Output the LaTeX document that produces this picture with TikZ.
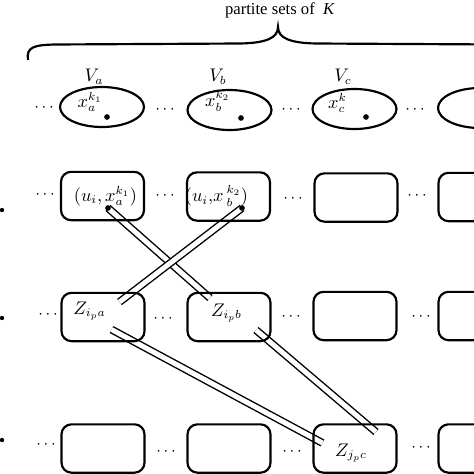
\documentclass[tikz,border=0pt]{standalone}
\usepackage{fontspec}
\newfontfamily\tms{Liberation Serif}
\usetikzlibrary{shapes.geometric,backgrounds}
\begin{document}
\begin{tikzpicture}[x=0.6pt,y=-0.6pt,
  setell/.style={draw, line width=1.3pt, ellipse, minimum width=50.4pt, minimum height=24pt, inner sep=0pt},
  cellbox/.style={draw, line width=1.3pt, rounded corners=6pt, minimum width=49.8pt, minimum height=29pt, inner sep=0pt},
  pt/.style={circle, fill, inner sep=0pt, minimum size=3.4pt},
  link/.style={double, double distance=3pt, line width=0.85pt},
  dts/.style={inner sep=0pt},
  lbl/.style={inner sep=0pt, font=\fontsize{10.5}{12}\selectfont}
]
\useasboundingbox (0,0) rectangle (474,474);
\clip (0,0) rectangle (474,474);

% title and brace
\node[inner sep=0pt, font=\tms\fontsize{10}{12}\selectfont] (title) at (280,10) {partite sets of\ \ \textit{K}};
\coordinate (brL) at (28,60);
\coordinate (brM) at (278,27);
\coordinate (brR) at (528,60);
\draw[line width=1.3pt] (brL) .. controls (26,47) and (34,45) .. (55,44.5) -- (240,43.5)
  .. controls (266,43) and (278,38) .. (brM)
  .. controls (278,38) and (290,43) .. (316,43.5) -- (501,44.5)
  .. controls (522,45) and (530,47) .. (brR);

% row 1: ellipses
\node[setell] (Ea) at (102,107) {};
\node[setell] (Eb) at (229.5,110) {};
\node[setell] (Ec) at (354.5,109) {};
\node[setell] (Ed) at (480,108) {};
\node[lbl] (Va) at (94,77) {$V_a$};
\node[lbl] (Vb) at (218,77) {$V_b$};
\node[lbl] (Vc) at (343,77) {$V_c$};
\node[lbl] (xa) at (90,102) {$x_a^{k_1}$};
\node[lbl] (xb) at (217.5,101) {$x_b^{k_2}$};
\node[lbl] (xc) at (337.5,103) {$x_c^{k}$};
\node[pt] (pa) at (107,117) {};
\node[pt] (pb) at (241,118) {};
\node[pt] (pc) at (366,117) {};
\node[dts] (d1a) at (44,108) {$\cdots$};
\node[dts] (d1b) at (165,110) {$\cdots$};
\node[dts] (d1c) at (291,110) {$\cdots$};
\node[dts] (d1d) at (415,110) {$\cdots$};

% row 2
\node[cellbox] (Ba) at (102.5,196) {};
\node[cellbox] (Bb) at (228.5,196.5) {};
\node[cellbox] (Bc) at (356,197.5) {};
\node[cellbox] (Bd) at (480,197) {};
\node[lbl] (ua) at (105.5,196) {$(u_i{,}\,x_a^{k_1})$};
\node[lbl] (ub) at (216.5,196) {$(u_i{,}x\,{}^{k_2}_{b})$};
\node[pt] (qa) at (108,208) {};
\node[pt] (qb) at (242,208) {};
\node[dts] (d2a) at (45,195) {$\cdots$};
\node[dts] (d2b) at (165,196) {$\cdots$};
\node[dts] (d2c) at (293,199) {$\cdots$};
\node[dts] (d2d) at (417,196) {$\cdots$};
\node[pt, minimum size=2.6pt] (e2) at (2,210) {};

% row 3
\node[cellbox] (Ca) at (103,317) {};
\node[cellbox] (Cb) at (229,317) {};
\node[cellbox] (Cc) at (355,316) {};
\node[cellbox] (Cd) at (480,316) {};
\node[lbl] (za) at (89.5,311) {$Z_{i_pa}$};
\node[lbl] (zb) at (226.5,313) {$Z_{i_pb}$};
\node[dts] (d3a) at (48,315) {$\cdots$};
\node[dts] (d3b) at (163,319) {$\cdots$};
\node[dts] (d3c) at (291,317) {$\cdots$};
\node[dts] (d3d) at (421,317) {$\cdots$};
\node[pt, minimum size=2.6pt] (e3) at (2,318) {};

% row 4
\node[cellbox] (Da) at (103,448.5) {};
\node[cellbox] (Db) at (229,448.5) {};
\node[cellbox] (Dc) at (355,448.5) {};
\node[cellbox] (Dd) at (480,448.5) {};
\node[lbl] (zc) at (351,453) {$Z_{j_pc}$};
\node[dts] (d4a) at (46,445) {$\cdots$};
\node[dts] (d4b) at (166,452) {$\cdots$};
\node[dts] (d4c) at (292,452) {$\cdots$};
\node[dts] (d4d) at (421,448) {$\cdots$};
\node[pt, minimum size=2.6pt] (e4) at (2,440) {};

% link end points
\coordinate (t1) at (210,298);
\coordinate (t2) at (119.5,302);
\coordinate (s3) at (111.5,329.5);
\coordinate (t3) at (322.5,443);
\coordinate (s4) at (256,330);
\coordinate (t4) at (376,432);

\begin{scope}[on background layer]
\draw[link] (qa.center) -- (t1);
\draw[link] (qb.center) -- (t2);
\draw[link] (s3) -- (t3);
\draw[link] (s4) -- (t4);
\end{scope}
\end{tikzpicture}
\end{document}
